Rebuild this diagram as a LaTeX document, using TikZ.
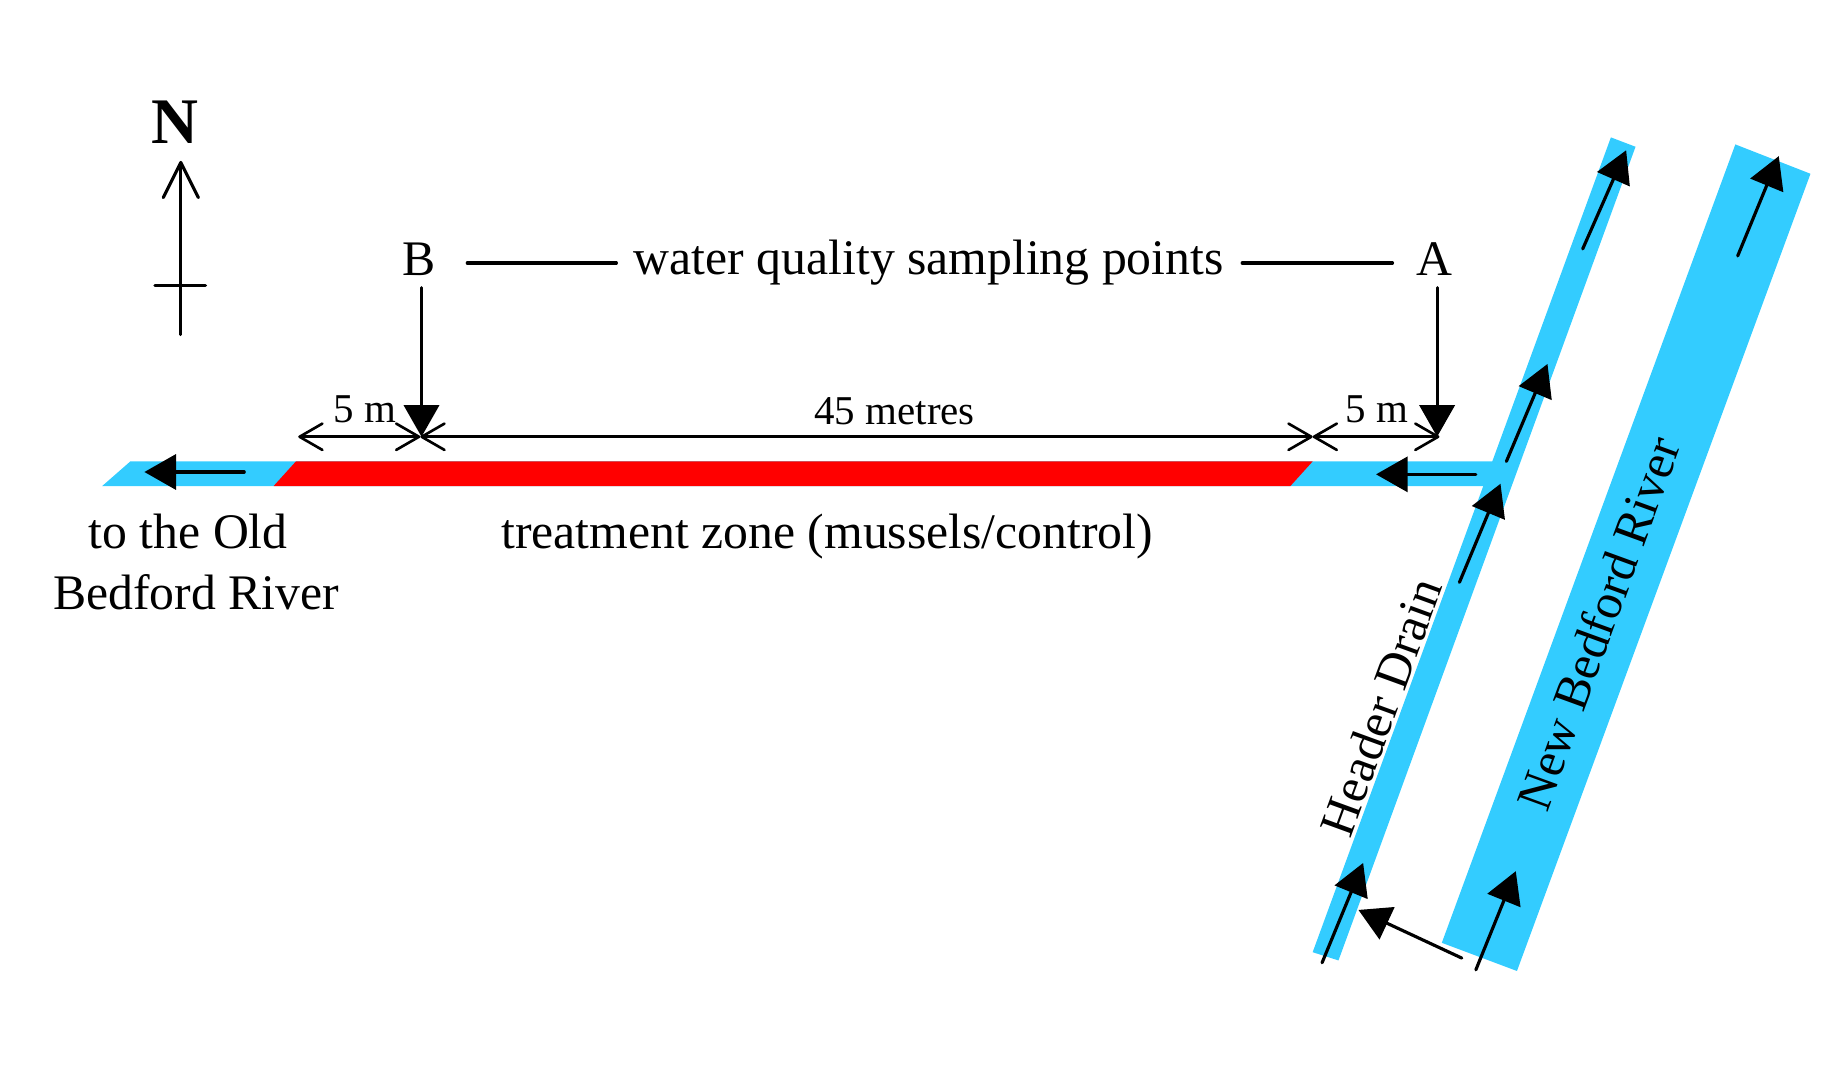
\documentclass[tikz,border=0pt]{standalone}
\usepackage{fontspec}
\setmainfont{Liberation Serif}
\usetikzlibrary{arrows.meta}
\definecolor{water}{HTML}{33CCFF}
\tikzset{
  flow/.style={line width=1.8pt,line cap=round,-{Triangle[length=18pt,width=20pt]}},
  open/.style={line width=1.5pt,line cap=round,{Straight Barb[length=13pt,width=15pt,round]}-{Straight Barb[length=13pt,width=15pt,round]}},
  rule/.style={line width=1.8pt,line cap=round},
  big/.style={font=\fontsize{28.3}{34.4}\selectfont,align=center,inner sep=0pt},
  small/.style={font=\fontsize{23.3}{28}\selectfont,inner sep=0pt},
}
\begin{document}
\begin{tikzpicture}[x=0.02348cm,y=-0.02348cm]
\useasboundingbox (0,0) rectangle (1568,916);

% channels
\fill[water] (87,414) -- (111,393) -- (1275,393) -- (1268,414) -- cycle;
\fill[red] (233,414) -- (252,393) -- (1118,393) -- (1099,414) -- cycle;
\fill[water] (1118,811) -- (1140,818) -- (1393,125) -- (1372,117) -- cycle;
\fill[water] (1228,803) -- (1292,827) -- (1542,148) -- (1478,123) -- cycle;

% flow directions
\coordinate (w1-s) at (208,402);
\coordinate (w1-e) at (123,402);
\coordinate (w2-s) at (1257,404);
\coordinate (w2-e) at (1172,404);
\coordinate (d1-s) at (1126,820);
\coordinate (d1-e) at (1161,735);
\coordinate (d2-s) at (1243,496);
\coordinate (d2-e) at (1278,412);
\coordinate (d3-s) at (1283,393);
\coordinate (d3-e) at (1318,310);
\coordinate (d4-s) at (1348,212);
\coordinate (d4-e) at (1385,128);
\coordinate (r1-s) at (1257,826);
\coordinate (r1-e) at (1291,742);
\coordinate (r2-s) at (1480,218);
\coordinate (r2-e) at (1515,133);
\coordinate (x1-s) at (1245,816);
\coordinate (x1-e) at (1157,775);
\foreach \i in {w1,w2,d1,d2,d3,d4,r1,r2,x1}
  \draw[flow] (\i-s) -- (\i-e);

% north
\node[font=\bfseries\fontsize{37}{40}\selectfont,inner sep=0pt] (north) at (149,104) {N};
\coordinate (nfoot) at (154,285);
\coordinate (nhead) at (154,137);
\coordinate (nbarl) at (132,243);
\coordinate (nbarr) at (175,243);
\draw[rule,-{Straight Barb[length=20pt,width=20pt,round]}] (nfoot) -- (nhead);
\draw[rule] (nbarl) -- (nbarr);

% sampling points
\node[big] (ptB) at (357,221) {B};
\node[big] (ptA) at (1222,221) {A};
\node[big] (sampling) at (791,224) {water quality sampling points};
\coordinate (l1) at (398,224);
\coordinate (l2) at (525,224);
\coordinate (l3) at (1058,224);
\coordinate (l4) at (1186,224);
\draw[rule] (l1) -- (l2);
\draw[rule] (l3) -- (l4);
\coordinate (b0) at (359,245);
\coordinate (b1) at (359,372);
\coordinate (a0) at (1224,245);
\coordinate (a1) at (1224,372);
\draw[flow] (b0) -- (b1);
\draw[flow] (a0) -- (a1);

% distances
\coordinate (m0) at (254,372);
\coordinate (m1) at (358,372);
\coordinate (m2) at (1118,372);
\coordinate (m3) at (1226,372);
\draw[open] (m0) -- (m1);
\draw[open] (m1) -- (m2);
\draw[open] (m2) -- (m3);
\node[small] (d5l) at (311,349) {5 m};
\node[small] (d45) at (762,350) {45 metres};
\node[small] (d5r) at (1173,349) {5 m};

% labels
\node[big] (old) at (167,478.5) {to the Old\hspace*{9pt}\\Bedford River};
\node[big] (zone) at (704.5,457) {treatment zone (mussels/control)};
\node[big,rotate=70] (header) at (1176,602) {Header Drain};
\node[big,rotate=70] (newriver) at (1361,531) {New Bedford River};

\end{tikzpicture}
\end{document}
